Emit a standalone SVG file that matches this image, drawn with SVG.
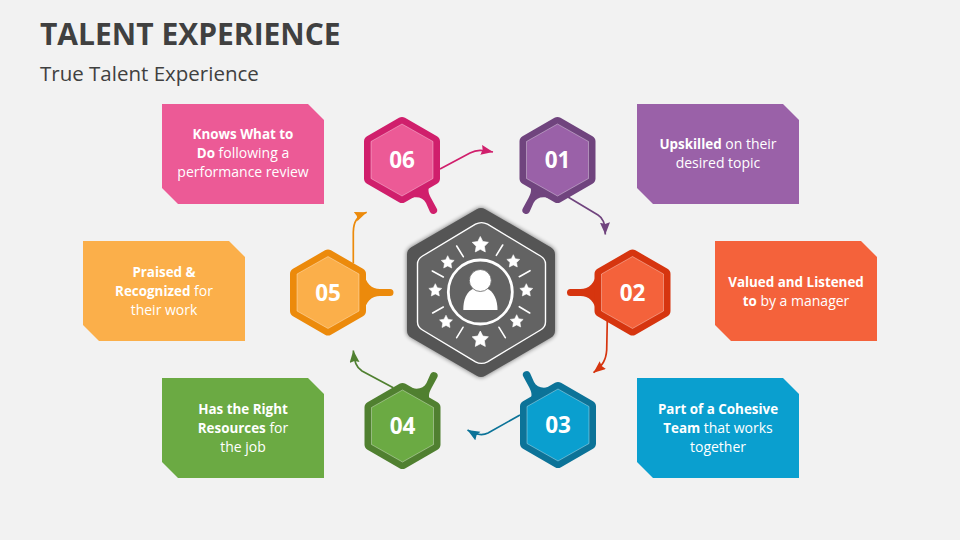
<svg xmlns="http://www.w3.org/2000/svg" width="960" height="540" viewBox="0 0 960 540">
<style>
text{font-family:"Open Sans","Noto Sans","Liberation Sans",sans-serif}
.title{font-size:30px;font-weight:700;fill:#404040}
.sub{font-size:20.500px;fill:#404040}
.card{font-size:14px;fill:#fff;text-anchor:middle}
.card tspan.b{font-weight:700;font-size:13.400px}
.num{font-size:22.500px;font-weight:700;fill:#fff;text-anchor:middle}
.con{fill:none;stroke-width:1.700}
.ray{stroke:#fff;stroke-width:1.600;stroke-linecap:round;fill:none}
</style>
<defs>
<filter id="sh" x="-15%" y="-15%" width="130%" height="130%"><feGaussianBlur stdDeviation="2.200"/></filter>
<polygon id="box" points="0,0 146,0 162,16 162,100 16,100 0,84"/>
<g id="hexOuter"><polygon points="0,-37 32,-18.500 32,18.500 0,37 -32,18.500 -32,-18.500" stroke-width="12" stroke-linejoin="round"/></g>
<polygon id="hexInner" points="0,-36 31,-18.500 31,18.500 0,36 -31,18.500 -31,-18.500" stroke="#fff" stroke-opacity=".35" stroke-width="1" stroke-linejoin="round"/>
<path id="tailDiag" d="M6,39 C14,36 21,37 24,43 L28,52 A3.800,3.800 0 0 0 34.600,48.200 L29,38 C27,34 25,30 28,24 Z"/>
<path id="tailSide" d="M-36,-21 C-37,-9 -44,-3.500 -52,-3.500 L-62,-3.500 A3.500,3.500 0 0 0 -62,3.500 L-52,3.500 C-44,3.500 -37,9 -36,21 Z"/>
<polygon id="star" points="0,-1 .296,-.408 .951,-.309 .48,.156 .588,.809 0,.504 -.588,.809 -.48,.156 -.951,-.309 -.296,-.408" fill="#fff" stroke="#fff" stroke-width=".08" stroke-linejoin="round"/>
<marker id="a6" markerUnits="userSpaceOnUse" markerWidth="13" markerHeight="11" refX="12" refY="5" orient="auto"><path d="M0,0 L12,5 L0,10 L1.500,5 Z" fill="#D01F6C"/></marker>
<marker id="a1" markerUnits="userSpaceOnUse" markerWidth="13" markerHeight="11" refX="12" refY="5" orient="auto"><path d="M0,0 L12,5 L0,10 L1.500,5 Z" fill="#70447E"/></marker>
<marker id="a2" markerUnits="userSpaceOnUse" markerWidth="13" markerHeight="11" refX="12" refY="5" orient="auto"><path d="M0,0 L12,5 L0,10 L1.500,5 Z" fill="#D6350F"/></marker>
<marker id="a3" markerUnits="userSpaceOnUse" markerWidth="13" markerHeight="11" refX="12" refY="5" orient="auto"><path d="M0,0 L12,5 L0,10 L1.500,5 Z" fill="#0C7398"/></marker>
<marker id="a4" markerUnits="userSpaceOnUse" markerWidth="13" markerHeight="11" refX="12" refY="5" orient="auto"><path d="M0,0 L12,5 L0,10 L1.500,5 Z" fill="#508030"/></marker>
<marker id="a5" markerUnits="userSpaceOnUse" markerWidth="13" markerHeight="11" refX="12" refY="5" orient="auto"><path d="M0,0 L12,5 L0,10 L1.500,5 Z" fill="#EC8A0B"/></marker>
</defs>
<rect width="960" height="540" fill="#F2F2F2"/>
<text class="title" x="40" y="45">TALENT EXPERIENCE</text>
<text class="sub" x="40" y="81">True Talent Experience</text>

<g id="connectors">
<path class="con" stroke="#D01F6C" marker-end="url(#a6)" d="M440,169 L470,153 C477,149.500 482,150 493,152"/>
<path class="con" stroke="#70447E" marker-end="url(#a1)" d="M568,197 L598,215 C603,218 605,223 605.300,234.500"/>
<path class="con" stroke="#D6350F" marker-end="url(#a2)" d="M607.300,320 L606.700,350 C606,360 603,365 593.500,372.700"/>
<path class="con" stroke="#0C7398" marker-end="url(#a3)" d="M520,415 L488,433 C482,436 476,435 467.500,430"/>
<path class="con" stroke="#508030" marker-end="url(#a4)" d="M393.300,387.700 L362,371 C356,367 354.500,362 353.300,350.500"/>
<path class="con" stroke="#EC8A0B" marker-end="url(#a5)" d="M353.300,263.300 L353.300,232 C353.500,222 357,216 366.700,212.300"/>
</g>

<g id="center-hub">
<polygon points="481,216.500 546.500,254.500 546.500,330.500 481,368.500 415.500,330.500 415.500,254.500" fill="#000" opacity=".45" stroke="#000" stroke-width="18" stroke-linejoin="round" filter="url(#sh)"/>
<polygon points="481,216.500 546.500,254.500 546.500,330.500 481,368.500 415.500,330.500 415.500,254.500" fill="#555" stroke="#555" stroke-width="17" stroke-linejoin="round"/>
<path transform="translate(481.500,293)" fill="#636363" stroke="#fff" stroke-width="1.400" d="M-6,-68.800 Q0,-72 6,-68.800 L59,-37 Q64,-34 64,-29 L64,29 Q64,34 59,37 L6,68.800 Q0,72 -6,68.800 L-59,37 Q-64,34 -64,29 L-64,-29 Q-64,-34 -59,-37 Z"/>
<circle cx="480.300" cy="292" r="32" fill="none" stroke="#fff" stroke-width="2.800"/>
<path fill="#fff" d="M463.300,310 C463.300,300 466,291 475,288 L486,288 C494,291 497.500,300 497.500,310 Z"/>
<circle cx="480.300" cy="280.500" r="11" fill="#fff" stroke="#636363" stroke-width=".8"/>
<use href="#star" transform="translate(480.300,245) scale(8.500)"/>
<use href="#star" transform="translate(513.300,261.500) scale(6.800)"/>
<use href="#star" transform="translate(526.300,290.500) scale(6.800)"/>
<use href="#star" transform="translate(516.700,321.500) scale(6.800)"/>
<use href="#star" transform="translate(480.300,339.500) scale(8.500)"/>
<use href="#star" transform="translate(446,322) scale(6.800)"/>
<use href="#star" transform="translate(435.300,290.500) scale(6.800)"/>
<use href="#star" transform="translate(447.700,262.500) scale(6.800)"/>
<path class="ray" d="M456.700,246 L463.300,256.700 M502.700,245 L496.300,255.300 M519.300,276.700 L530,270.700 M519.300,306.700 L529.700,313 M499,327.300 L505.300,337.700 M463,327.300 L456.700,337.700 M443.300,277 L432.300,271 M443.300,307 L432.700,313"/>
</g>

<g id="node-01" transform="translate(557.500,160)">
<use href="#tailDiag" transform="scale(-1,1)" fill="#70447E"/>
<use href="#hexOuter" fill="#70447E" stroke="#70447E"/>
<use href="#hexInner" fill="#9A61A8"/>
<text class="num" x="0" y="8">01</text>
</g>
<g id="node-02" transform="translate(632.500,292.500)">
<use href="#tailSide" fill="#D6350F"/>
<use href="#hexOuter" fill="#D6350F" stroke="#D6350F"/>
<use href="#hexInner" fill="#F4623B"/>
<text class="num" x="0" y="8">02</text>
</g>
<g id="node-03" transform="translate(558,425)">
<use href="#tailDiag" transform="scale(-1,-1)" fill="#0C7398"/>
<use href="#hexOuter" fill="#0C7398" stroke="#0C7398"/>
<use href="#hexInner" fill="#0A9FCF"/>
<text class="num" x="0" y="8">03</text>
</g>
<g id="node-04" transform="translate(402.500,426)">
<use href="#tailDiag" transform="scale(1,-1)" fill="#508030"/>
<use href="#hexOuter" fill="#508030" stroke="#508030"/>
<use href="#hexInner" fill="#6BAA43"/>
<text class="num" x="0" y="8">04</text>
</g>
<g id="node-05" transform="translate(328,292.500)">
<use href="#tailSide" transform="scale(-1,1)" fill="#EC8A0B"/>
<use href="#hexOuter" fill="#EC8A0B" stroke="#EC8A0B"/>
<use href="#hexInner" fill="#FBAF4A"/>
<text class="num" x="0" y="8">05</text>
</g>
<g id="node-06" transform="translate(402,160)">
<use href="#tailDiag" fill="#D01F6C"/>
<use href="#hexOuter" fill="#D01F6C" stroke="#D01F6C"/>
<use href="#hexInner" fill="#EC5A96"/>
<text class="num" x="0" y="8">06</text>
</g>

<g id="card-01">
<use href="#box" x="637" y="104" fill="#9A61A8"/>
<text class="card"><tspan x="718" y="149"><tspan class="b">Upskilled</tspan> on their</tspan><tspan x="718" y="168">desired topic</tspan></text>
</g>
<g id="card-02">
<use href="#box" x="715" y="241" fill="#F4623B"/>
<text class="card"><tspan class="b" x="796" y="287">Valued and Listened</tspan><tspan x="796" y="306"><tspan class="b">to</tspan> by a manager</tspan></text>
</g>
<g id="card-03">
<use href="#box" x="637" y="378" fill="#0A9FCF"/>
<text class="card"><tspan class="b" x="718" y="414">Part of a Cohesive</tspan><tspan x="718" y="433"><tspan class="b">Team</tspan> that works</tspan><tspan x="718" y="452">together</tspan></text>
</g>
<g id="card-04">
<use href="#box" x="162" y="378" fill="#6BAA43"/>
<text class="card"><tspan class="b" x="243" y="414">Has the Right</tspan><tspan x="243" y="433"><tspan class="b">Resources</tspan> for</tspan><tspan x="243" y="452">the job</tspan></text>
</g>
<g id="card-05">
<use href="#box" x="83" y="241" fill="#FBAF4A"/>
<text class="card"><tspan class="b" x="164" y="277">Praised &amp;</tspan><tspan x="164" y="296"><tspan class="b">Recognized</tspan> for</tspan><tspan x="164" y="315">their work</tspan></text>
</g>
<g id="card-06">
<use href="#box" x="162" y="104" fill="#EC5A96"/>
<text class="card"><tspan class="b" x="243" y="139">Knows What to</tspan><tspan x="243" y="158"><tspan class="b">Do</tspan> following a</tspan><tspan x="243" y="177">performance review</tspan></text>
</g>
</svg>
